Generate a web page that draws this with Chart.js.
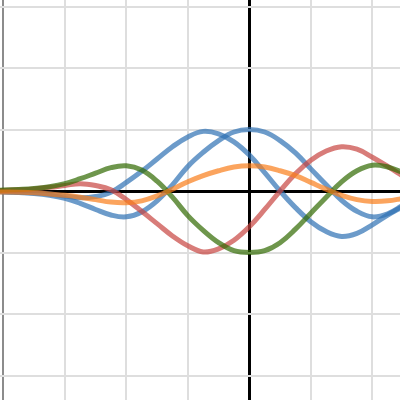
<!DOCTYPE html>
<html>
<head>
<meta charset="utf-8">
<script src="https://cdn.jsdelivr.net/npm/chart.js@4/dist/chart.umd.min.js"></script>
<style>
  html, body { margin: 0; padding: 0; background: #fff; }
  #wrap { width: 400px; height: 400px; }
</style>
</head>
<body>
<div id="wrap"><canvas id="chart" width="400" height="400"></canvas></div>
<script>
// --- Data (x in grid units) ---
const xs = [-4.25, -4, -3.75, -3.5, -3.25, -3, -2.75, -2.5, -2.25, -2, -1.75, -1.5, -1.25, -1,
            -0.75, -0.5, -0.25, 0, 0.25, 0.5, 0.75, 1, 1.25, 1.5, 1.75, 2, 2.25, 2.5];

const blueA = [-0.01, -0.015, -0.025, -0.04, -0.07, -0.12, -0.2, -0.3, -0.39, -0.42, -0.34, -0.16, 0.1, 0.4,
               0.63, 0.82, 0.96, 1.0, 0.96, 0.82, 0.62, 0.36, 0.1, -0.15, -0.33, -0.42, -0.37, -0.23];
const blueB = [-0.005, -0.01, -0.02, -0.03, -0.05, -0.08, -0.11, -0.09, -0.02, 0.14, 0.32, 0.52, 0.72, 0.88,
               0.97, 0.93, 0.8, 0.585, 0.3, 0.0, -0.27, -0.5, -0.66, -0.74, -0.69, -0.55, -0.39, -0.25];
const red = [0.005, 0.01, 0.02, 0.035, 0.06, 0.09, 0.12, 0.09, 0.02, -0.14, -0.33, -0.53, -0.73, -0.89,
             -0.99, -0.94, -0.8, -0.58, -0.3, 0.0, 0.28, 0.5, 0.65, 0.72, 0.68, 0.55, 0.4, 0.24];
const green = [0.01, 0.015, 0.025, 0.04, 0.07, 0.12, 0.2, 0.29, 0.38, 0.41, 0.34, 0.16, -0.1, -0.4,
               -0.64, -0.84, -0.97, -1.0, -0.97, -0.84, -0.62, -0.36, -0.1, 0.15, 0.33, 0.42, 0.39, 0.3];
const orange = [-0.01, -0.015, -0.02, -0.03, -0.05, -0.07, -0.1, -0.14, -0.18, -0.19, -0.16, -0.08, 0.03, 0.15,
                0.25, 0.33, 0.39, 0.41, 0.39, 0.33, 0.25, 0.14, 0.03, -0.07, -0.14, -0.17, -0.16, -0.12];

// visible window (grid units)
const xMin = -4.054, xMax = 2.45;
const yMin = -3.398, yMax = 3.106;

const toPoints = ys => xs.map((x, i) => ({ x, y: ys[i] }));

const curve = (data, color) => ({
    data: toPoints(data),
    borderColor: color,
    borderWidth: 5,
    pointRadius: 0,
    tension: 0.4,
    fill: false
});

const gridColor = (ctx) => {
    const v = ctx.tick && ctx.tick.value;
    if (v === 0) return '#000';
    if (v === -4 && ctx.scale.axis === 'x') return '#8c8c8c';
    return '#dedede';
};
const gridWidth = (ctx) => (ctx.tick && ctx.tick.value === 0 ? 3 : 2);

new Chart(document.getElementById('chart').getContext('2d'), {
    type: 'line',
    data: {
        datasets: [
            curve(orange, 'rgba(250,126,25,0.7)'),
            curve(green, 'rgba(48,105,0,0.7)'),
            curve(red, 'rgba(199,68,64,0.7)'),
            curve(blueB, 'rgba(45,112,179,0.7)'),
            curve(blueA, 'rgba(45,112,179,0.7)')
        ]
    },
    options: {
        responsive: false,
        animation: false,
        layout: { padding: 0 },
        plugins: { legend: { display: false }, tooltip: { enabled: false } },
        scales: {
            x: {
                type: 'linear', min: xMin, max: xMax,
                ticks: { display: false, stepSize: 1, includeBounds: false },
                grid: { color: gridColor, lineWidth: gridWidth, drawTicks: false },
                border: { display: false }
            },
            y: {
                type: 'linear', min: yMin, max: yMax,
                ticks: { display: false, stepSize: 1, includeBounds: false },
                grid: { color: gridColor, lineWidth: gridWidth, drawTicks: false },
                border: { display: false }
            }
        }
    }
});
</script>
</body>
</html>
